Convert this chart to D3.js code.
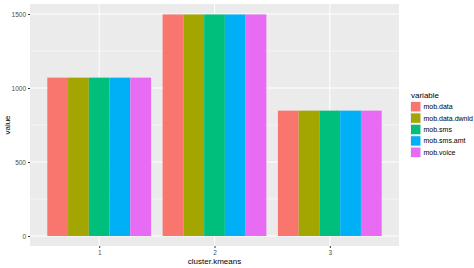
<!DOCTYPE html>
<html lang="en">
<head>
<meta charset="UTF-8">
<title>cluster.kmeans</title>
<script src="https://d3js.org/d3.v7.min.js"></script>
<style>
    body { margin: 0; background: #fff; font-family: "Liberation Sans", Arial, sans-serif; }
    svg { display: block; }
</style>
</head>
<body>
<svg id="chart" width="474" height="268"></svg>
<script>
// data
const clusters = ["1", "2", "3"];
const variables = ["mob.data", "mob.data.dwnld", "mob.sms", "mob.sms.amt", "mob.voice"];
const clusterValues = [1070, 1497, 847];   // same value for every variable in a cluster
const colors = ["#F8766D", "#A3A500", "#00BF7D", "#00B0F6", "#E76BF3"];
const yTicks = [0, 500, 1000, 1500];
const yMinor = [250, 750, 1250];

const rows = [];
clusters.forEach((c, i) => variables.forEach(v => rows.push({ cluster: c, variable: v, value: clusterValues[i] })));

const panel = { left: 30, right: 399, top: 4, bottom: 246 };
const svg = d3.select("#chart");

// discrete x scale with ggplot style expansion (0.6 units each side)
const xPos = d3.scaleLinear().domain([0.4, 3.6]).range([panel.left, panel.right]);
const bandW = (xPos(1.9) - xPos(1.0));
const xInner = d3.scaleBand().domain(variables).range([0, bandW]);

const y = d3.scaleLinear().domain([0, 1500]).range([236, 14]);

// panel background
svg.append("rect")
   .attr("x", panel.left).attr("y", panel.top)
   .attr("width", panel.right - panel.left).attr("height", panel.bottom - panel.top)
   .attr("fill", "#EBEBEB");

// minor grid
svg.selectAll(".minor").data(yMinor).enter().append("line")
   .attr("x1", panel.left).attr("x2", panel.right)
   .attr("y1", d => y(d)).attr("y2", d => y(d))
   .attr("stroke", "#fff").attr("stroke-width", 0.5);

// major grid
svg.selectAll(".majory").data(yTicks).enter().append("line")
   .attr("x1", panel.left).attr("x2", panel.right)
   .attr("y1", d => y(d)).attr("y2", d => y(d))
   .attr("stroke", "#fff").attr("stroke-width", 1);
svg.selectAll(".majorx").data(clusters).enter().append("line")
   .attr("x1", (d, i) => xPos(i + 1)).attr("x2", (d, i) => xPos(i + 1))
   .attr("y1", panel.top).attr("y2", panel.bottom)
   .attr("stroke", "#fff").attr("stroke-width", 1);

// bars
svg.selectAll(".bar").data(rows).enter().append("rect")
   .attr("x", d => xPos(clusters.indexOf(d.cluster) + 1) - bandW / 2 + xInner(d.variable))
   .attr("width", xInner.bandwidth())
   .attr("y", d => y(d.value))
   .attr("height", d => y(0) - y(d.value))
   .attr("fill", d => colors[variables.indexOf(d.variable)]);

// y axis
const yAxis = svg.append("g").attr("transform", `translate(${panel.left},0)`)
   .call(d3.axisLeft(y).tickValues(yTicks).tickSize(2).tickPadding(2).tickFormat(d3.format("d")));
yAxis.select(".domain").remove();
yAxis.selectAll("line").attr("stroke", "#333");
yAxis.selectAll("text").attr("fill", "#4D4D4D").style("font-size", "6.5px").style("font-family", "Liberation Sans, Arial, sans-serif");

// x axis
const xAxis = svg.append("g").attr("transform", `translate(0,${panel.bottom})`)
   .call(d3.axisBottom(xPos).tickValues([1, 2, 3]).tickSize(2).tickPadding(2).tickFormat(d => clusters[d - 1]));
xAxis.select(".domain").remove();
xAxis.selectAll("line").attr("stroke", "#333");
xAxis.selectAll("text").attr("fill", "#4D4D4D").style("font-size", "6.5px").style("font-family", "Liberation Sans, Arial, sans-serif");

// axis titles
svg.append("text")
   .attr("x", (panel.left + panel.right) / 2).attr("y", 264)
   .attr("text-anchor", "middle").attr("font-size", 8).attr("fill", "#000")
   .text("cluster.kmeans");
svg.append("text")
   .attr("transform", `translate(10,${(panel.top + panel.bottom) / 2}) rotate(-90)`)
   .attr("text-anchor", "middle").attr("font-size", 8).attr("fill", "#000")
   .text("value");

// legend
const legend = svg.append("g").attr("transform", "translate(410,90)");
legend.append("text").attr("x", 1).attr("y", 8).attr("font-size", 8).attr("fill", "#000").text("variable");
const items = legend.selectAll(".item").data(variables).enter().append("g")
   .attr("transform", (d, i) => `translate(0,${11 + i * 11.4})`);
items.append("rect").attr("x", 0).attr("y", 0).attr("width", 11.4).attr("height", 11.4).attr("fill", "#F2F2F2");
items.append("rect").attr("x", 1).attr("y", 1).attr("width", 9.4).attr("height", 9.4)
   .attr("fill", (d, i) => colors[i]);
items.append("text").attr("x", 13.5).attr("y", 8.3).attr("font-size", 7).attr("fill", "#000").text(d => d);
</script>
</body>
</html>
